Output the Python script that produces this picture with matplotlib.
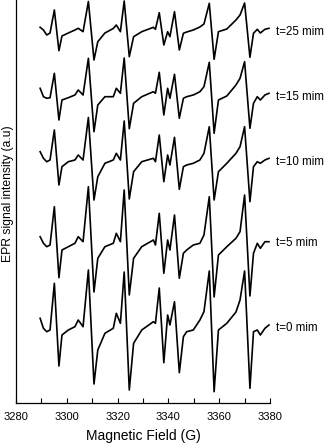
import numpy as np
import matplotlib
matplotlib.use("Agg")
import matplotlib.pyplot as plt

plt.rcParams['font.family'] = ['Liberation Sans', 'DejaVu Sans']

# magnetic field grid (G), shared by all spectra
field = [3289.5, 3290.8, 3292.1, 3293.4, 3295.1, 3296.9, 3298.1, 3300.6, 3303.2, 3304.5,
         3306.4, 3308.5, 3310.7, 3312.2, 3315.0, 3318.3, 3319.5, 3321.1, 3322.6, 3324.6,
         3326.3, 3329.5, 3334.1, 3334.9, 3336.4, 3338.2, 3339.7, 3340.6, 3342.4, 3344.3,
         3345.9, 3347.2, 3349.8, 3352.4, 3354.0, 3356.1, 3358.0, 3359.7, 3363.0, 3366.6,
         3368.2, 3370.0, 3372.1, 3373.5, 3375.0, 3376.2, 3378.0, 3379.6]

# EPR signal (a.u.) for each time
s25 = [2.7, 0, -5, -3, 20, -20.7, -6, -3, 0, 1.7,
       -1.7, 28.5, -30, -11.7, -3, 1.5, 5, -1.7, 29, -26.7,
       -6.7, -1.7, 2.7, 0.7, 17.3, -15, -1.7, -6.7, 18.3, -20,
       -3.3, -2, 0, 3, 6, 26.7, -29.3, -1.7, 1, 10,
       15, 27, -27.3, -3.3, 0.7, -3, 0.7, 1.7]
s15 = [6.7, -1.7, -3.3, -2.7, 21.7, -25, -5, -2.7, 0, 5,
       0, 36.7, -36.7, -10, -1.7, -1.7, 6.7, 1.7, 37, -33.7,
       -8.3, -1.7, 3.3, 1.7, 22.7, -20, 6.7, -3.3, 20.7, -23.3,
       -3.3, -1.7, 0, 3.3, 8.3, 32.7, -38.3, -5, -1, 10,
       16.7, 33.3, -33.3, -8.3, -1.7, -5, 0, 1.7]
s10 = [8.3, 1.7, -1.7, 0, 30, -25, -6.7, -1.7, 0, 5,
       0, 42.5, -40, -16.7, -3.3, 0, 6.7, 0, 39, -39,
       -11.7, -1.7, 1.7, -1.7, 25, -21.7, 5, -5, 22.7, -29.3,
       -6.7, -5, -3.3, 0, 6.7, 33.3, -40, -11.7, -3.3, 6.7,
       13.3, 33.3, -41.7, -6.7, -1.7, -3.3, 0, 1.7]
s5 = [8.3, 1.7, -1.7, 0, 38.3, -32.7, -5, -1.7, 1.7, 8.3,
      3.3, 58.3, -47, -13.3, -1.7, 1.7, 11.7, 3.3, 55, -50,
      -13.3, -1.7, 5, 0, 31.7, -28.3, 5, -5, 30, -33.3,
      -8.3, -5, 0, 1.7, 10, 48.3, -52, -10, -1.7, 6.7,
      13.3, 50, -51, -8.3, 1.7, -3.3, 3.3, 3.3]
s0 = [9.7, -0.3, -3.7, -2, 44.7, -38, -7, -2, 1.3, 8,
      1.3, 58, -56, -22, -5.3, -0.3, 14.7, 4.7, 56, -62,
      -15.3, -2, 6.3, 4.7, 40, -34.7, 13, 3, 26.3, -44.7,
      -8.7, -3.7, -2, 8, 16.3, 57, -63.7, -2, 4.7, 16,
      28, 57, -60.3, -3.7, -2, -7, -0.3, 3]

spectra = [s25, s15, s10, s5, s0]
labels = ["t=25 mim", "t=15 mim", "t=10 mim", "t=5 mim", "t=0 mim"]
offsets = [373, 308, 243, 158, 75]
label_y = [370.7, 306.3, 240.7, 159.7, 74.7]

fig = plt.figure(figsize=(3.31, 4.43), dpi=100)
ax = fig.add_axes([16/331, 40/443, 254/331, 403/443])

for s, off, lab, ly in zip(spectra, offsets, labels, label_y):
    ax.plot(field, np.array(s) + off, color='black', lw=1.2)
    ax.text(3382.3, ly, lab, fontsize=8.3, ha='left', va='center', clip_on=False)

ax.set_xlim(3280, 3380)
ax.set_ylim(0, 403)
ax.set_xticks(np.arange(3280, 3381, 20))
ax.set_xticks(np.arange(3280, 3381, 10), minor=True)
ax.set_yticks([])
ax.tick_params(axis='x', which='both', direction='in', labelsize=8, pad=6.5)
ax.tick_params(axis='x', which='major', length=3.5, width=0.8)
ax.tick_params(axis='x', which='minor', length=3.5, width=0.8)
ax.spines['top'].set_visible(False)
ax.spines['right'].set_visible(False)
ax.spines['left'].set_linewidth(0.9)
ax.spines['bottom'].set_linewidth(0.9)
ax.set_xlabel('Magnetic Field (G)', fontsize=10, labelpad=5)
ax.set_ylabel('EPR signal intensity (a.u)', fontsize=8.7)
ax.yaxis.set_label_coords(-0.008, 0.52)

fig.savefig('out.png', dpi=100)
